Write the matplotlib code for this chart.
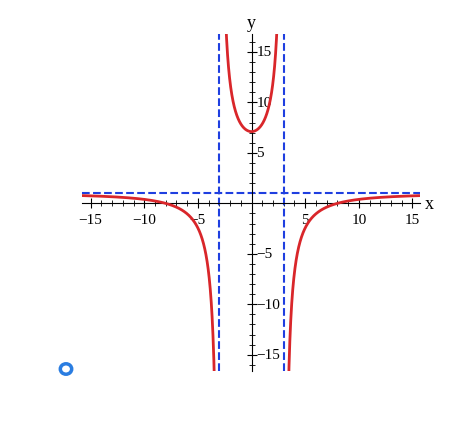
import numpy as np
import matplotlib
matplotlib.use('Agg')
from matplotlib import pyplot as plt
from matplotlib.ticker import MultipleLocator

# f(x) = (x^2 - zero^2) / (x^2 - pole^2)
zero = 8.0
pole = 3.0
h_asym = 1.0
xlim = (-15.8, 15.7)
ylim = (-16.6, 16.8)
xticks = [-15, -10, -5, 5, 10, 15]
yticks = [-15, -10, -5, 5, 10, 15]

plt.rcParams['font.family'] = ['Liberation Serif', 'DejaVu Serif']

fig = plt.figure(figsize=(4.74, 4.35), dpi=100)
ax = fig.add_axes([0.173, 0.145, 0.713, 0.775])

def f(x):
    return (x**2 - zero**2) / (x**2 - pole**2)

for a, b in [(xlim[0], -pole), (-pole, pole), (pole, xlim[1])]:
    xs = np.linspace(a, b, 800)[1:-1]
    ys = f(xs)
    ys = np.where(np.abs(ys) > 30, np.nan, ys)
    ax.plot(xs, ys, color='#d9262a', lw=2, zorder=3)

ax.axhline(h_asym, color='#1f3fe0', ls='--', lw=1.5, zorder=2)
for p in (-pole, pole):
    ax.axvline(p, color='#1f3fe0', ls='--', lw=1.5, zorder=2)

ax.set_xlim(*xlim)
ax.set_ylim(*ylim)
ax.spines['left'].set_position(('data', 0))
ax.spines['bottom'].set_position(('data', 0))
ax.spines['right'].set_visible(False)
ax.spines['top'].set_visible(False)
ax.set_xticks(xticks)
ax.set_yticks(yticks)
ax.xaxis.set_minor_locator(MultipleLocator(1))
ax.yaxis.set_minor_locator(MultipleLocator(1))
ax.tick_params(which='major', direction='inout', length=7, labelsize=11)
ax.tick_params(which='minor', direction='inout', length=4)
ax.tick_params(axis='y', labelleft=False)
ax.set_xticklabels(['\u2212' + str(-t) if t < 0 else str(t) for t in xticks])
for t in yticks:
    lab = '\u2212' + str(-t) if t < 0 else str(t)
    ax.text(0.45, t, lab, fontsize=11, va='center', ha='left', zorder=1)
ax.text(xlim[1] + 0.5, 0, 'x', fontsize=13, va='center', ha='left')
ax.text(0, ylim[1] + 0.3, 'y', fontsize=13, va='bottom', ha='center')

fig.patches.append(plt.Circle((66 / 474, 1 - 370 / 435), 0.012, transform=fig.transFigure,
                              facecolor='white', edgecolor='#2a7de1', lw=2.5))
fig.savefig('out.png', dpi=100)
